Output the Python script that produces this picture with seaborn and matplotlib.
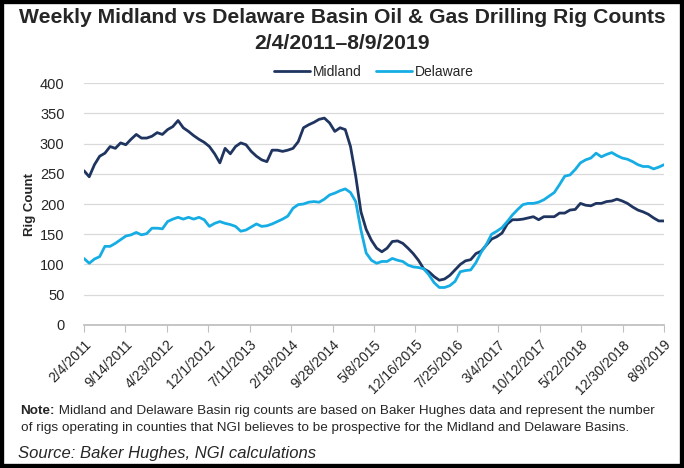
import pandas as pd
import numpy as np
import matplotlib
matplotlib.use("Agg")
from matplotlib import pyplot as plt
from matplotlib.patches import Rectangle
import seaborn as sns

# rig counts, one value every 4 weeks from 2/4/2011 to 8/9/2019
midland = [255, 245, 265, 279, 284, 295, 292, 301, 298, 307,
           315, 309, 309, 312, 318, 315, 323, 328, 338, 326,
           320, 313, 307, 302, 295, 283, 268, 292, 283, 295,
           301, 298, 287, 279, 273, 270, 289, 289, 287, 289,
           292, 303, 326, 331, 335, 340, 342, 334, 320, 326,
           323, 295, 246, 187, 158, 140, 127, 121, 127, 138,
           139, 135, 127, 118, 107, 93, 88, 80, 74, 76,
           82, 91, 100, 106, 108, 118, 122, 132, 142, 146,
           152, 167, 174, 174, 175, 177, 179, 174, 179, 179,
           179, 185, 185, 190, 191, 201, 198, 197, 201, 201,
           204, 205, 208, 205, 201, 195, 190, 187, 183, 177,
           172, 172]
delaware = [110, 102, 109, 113, 130, 130, 135, 141, 147, 149,
            153, 149, 151, 160, 160, 159, 171, 175, 178, 175,
            178, 175, 178, 174, 163, 168, 171, 168, 166, 163,
            155, 157, 162, 167, 163, 164, 167, 171, 175, 180,
            193, 199, 200, 203, 204, 203, 208, 215, 218, 222,
            225, 219, 204, 157, 119, 107, 102, 105, 105, 110,
            107, 105, 99, 96, 95, 93, 83, 70, 62, 62,
            65, 72, 88, 90, 91, 103, 120, 133, 150, 155,
            161, 171, 182, 191, 199, 201, 201, 203, 207, 213,
            219, 232, 246, 248, 257, 268, 273, 276, 284, 278,
            282, 285, 280, 276, 274, 270, 265, 262, 262, 258,
            261, 265]

tick_labels = ["2/4/2011", "9/14/2011", "4/23/2012", "12/1/2012", "7/11/2013",
               "2/18/2014", "9/28/2014", "5/8/2015", "12/16/2015", "7/25/2016",
               "3/4/2017", "10/12/2017", "5/22/2018", "12/30/2018", "8/9/2019"]

dates = pd.date_range("2011-02-04", periods=len(midland), freq="28D")
df = pd.DataFrame({"date": dates, "Midland": midland, "Delaware": delaware})
df = df.melt(id_vars="date", var_name="basin", value_name="rigs")

sns.set_theme(style="white")
plt.rcParams['font.family'] = ['Liberation Sans', 'DejaVu Sans']

fig = plt.figure(figsize=(6.84, 4.68), dpi=100)
ax = fig.add_axes([0.1228, 0.3056, 0.848, 0.517])

sns.lineplot(data=df, x="date", y="rigs", hue="basin",
             palette={"Midland": "#1f3560", "Delaware": "#16ade4"},
             linewidth=2.0, ax=ax)

ticks = pd.to_datetime(tick_labels, format="%m/%d/%Y")
ax.set_xlim(ticks[0], ticks[-1])
ax.set_xticks(ticks)
ax.set_xticklabels(tick_labels, rotation=45, ha="right", rotation_mode="anchor", fontsize=10)
ax.set_ylim(0, 400)
ax.set_yticks(range(0, 401, 50))
ax.tick_params(axis="y", labelsize=10.5, length=0, pad=14)
ax.tick_params(axis="x", length=5, width=0.8, color="#bfbfbf", direction="out", bottom=True, pad=4)
ax.grid(axis="y", color="#d9d9d9", linewidth=0.9)
ax.set_axisbelow(True)
for s in ["left", "right", "top"]:
    ax.spines[s].set_visible(False)
ax.spines["bottom"].set_color("#bfbfbf")
ax.set_xlabel("")
ax.set_ylabel("Rig Count", fontsize=9.5, fontweight="bold", labelpad=3)

ax.legend(loc="lower center", bbox_to_anchor=(0.5, 0.995), ncol=2, frameon=False,
          fontsize=10, handlelength=2.6, handletextpad=0.2, columnspacing=1.0,
          borderaxespad=0)

fig.text(0.5, 0.962, "Weekly Midland vs Delaware Basin Oil & Gas Drilling Rig Counts",
         ha="center", va="center", fontsize=15.2, fontweight="bold")
fig.text(0.5, 0.908, "2/4/2011\u20138/9/2019", ha="center", va="center",
         fontsize=15.2, fontweight="bold")

note = fig.text(0.030, 0.115, "Note:", ha="left", va="baseline", fontsize=9.7, fontweight="bold")
ax.annotate(" Midland and Delaware Basin rig counts are based on Baker Hughes data and represent the number",
            xy=(1, 0), xycoords=note, va="bottom", ha="left", fontsize=9.7,
            annotation_clip=False)
fig.text(0.030, 0.079, "of rigs operating in counties that NGI believes to be prospective for the Midland and Delaware Basins.",
         ha="left", va="baseline", fontsize=9.7)
fig.text(0.026, 0.032, "Source: Baker Hughes, NGI calculations", ha="left", va="center",
         fontsize=12, style="italic")

fig.patches.append(Rectangle((0, 0), 1, 1, transform=fig.transFigure, fill=False,
                             edgecolor="black", linewidth=6, figure=fig))

fig.savefig("out.png", dpi=100)
